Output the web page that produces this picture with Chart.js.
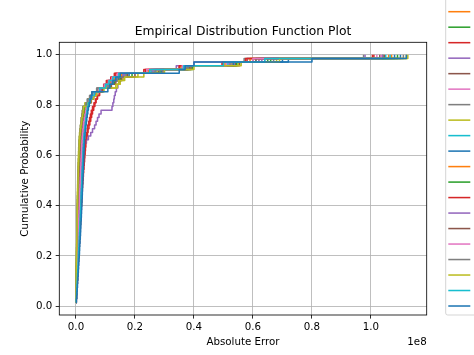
<!DOCTYPE html>
<html><head><meta charset="utf-8">
<script src="https://cdn.jsdelivr.net/npm/chart.js@4/dist/chart.umd.min.js"></script>
<style>html,body{margin:0;padding:0;background:#fff;overflow:hidden}canvas{display:block}</style>
</head><body>
<canvas id="c" width="474" height="355"></canvas>
<script>
// Sorted absolute errors for each series, in units of 1e6
const err00 = [0.03,0.08,0.13,0.18,0.23,0.28,0.33,0.38,0.43,0.48,0.53,0.58,0.63,0.68,0.73,0.78,0.83,0.88,0.93,0.98,1.03,1.08,1.13,1.18,1.23,1.28,1.33,1.38,1.43,1.48,1.53,1.58,1.63,1.68,1.73,1.78,1.84,1.9,1.96,2.02,2.08,2.14,2.2,2.28,2.36,2.45,2.55,2.7,2.85,3.0,3.15,3.3,3.5,3.7,4.2,4.8,5.5,6.5,8.5,10.5,12,13.5,16,26,37,52,70,110];
const err01 = [0.02,0.04,0.07,0.1,0.13,0.16,0.19,0.22,0.25,0.28,0.31,0.34,0.37,0.4,0.43,0.46,0.49,0.52,0.56,0.6,0.64,0.68,0.72,0.76,0.8,0.84,0.88,0.92,0.96,1.0,1.04,1.08,1.12,1.17,1.22,1.27,1.32,1.37,1.42,1.48,1.54,1.6,1.66,1.72,1.78,1.86,1.95,2.1,2.25,2.45,2.65,2.9,3.15,3.5,4.0,4.6,5.3,6.2,8,10.5,11.8,13,15.5,25,38,53,62,106];
const err02 = [0.01,0.03,0.04,0.06,0.07,0.09,0.1,0.12,0.13,0.15,0.16,0.18,0.19,0.21,0.23,0.25,0.27,0.29,0.31,0.33,0.35,0.37,0.39,0.41,0.43,0.45,0.48,0.51,0.54,0.57,0.6,0.63,0.66,0.69,0.72,0.76,0.8,0.84,0.88,0.92,0.96,1.0,1.05,1.1,1.15,1.25,1.35,1.5,1.65,1.8,1.95,2.1,2.3,2.5,3.4,4.0,4.8,5.6,7.5,11,12.5,14,17,27,36,51,66,104];
const err03 = [0.03,0.1,0.18,0.25,0.32,0.4,0.47,0.54,0.6,0.67,0.74,0.8,0.87,0.94,1.0,1.07,1.14,1.2,1.27,1.34,1.4,1.47,1.54,1.6,1.67,1.74,1.8,1.87,1.94,2.0,2.07,2.14,2.2,2.3,2.4,2.5,2.6,2.7,2.8,2.9,3.0,3.1,3.2,3.35,3.5,3.7,3.9,4.1,4.4,4.7,5.0,5.3,5.6,6.0,6.4,6.8,7.3,7.9,8.6,9.4,10.3,11.8,13,23.5,35,49.5,58,101];
const err04 = [0.02,0.06,0.1,0.14,0.18,0.22,0.26,0.3,0.34,0.38,0.42,0.46,0.5,0.54,0.58,0.62,0.66,0.7,0.74,0.78,0.82,0.86,0.9,0.95,1.0,1.05,1.1,1.15,1.2,1.25,1.3,1.36,1.42,1.48,1.54,1.6,1.7,1.8,1.9,2.0,2.2,2.5,2.8,3.1,3.5,4.2,5.0,5.6,6.3,6.8,7.3,7.8,8.5,12.2,12.5,12.8,13.0,13.3,13.7,14.2,14.8,15.4,16.5,27,34,40,62,104];
const err05 = [0.02,0.06,0.09,0.13,0.16,0.2,0.23,0.27,0.3,0.34,0.37,0.41,0.44,0.48,0.51,0.55,0.58,0.62,0.66,0.7,0.74,0.78,0.82,0.86,0.9,0.94,0.98,1.02,1.06,1.1,1.15,1.2,1.25,1.3,1.35,1.4,1.46,1.52,1.58,1.64,1.7,1.77,1.84,1.91,1.98,2.06,2.15,2.3,2.45,2.65,2.85,3.1,3.4,3.7,4.3,5.0,5.8,6.8,8.8,11.5,13,14.5,17.5,28,38.5,54,60,103];
const err06 = [0.02,0.05,0.08,0.11,0.14,0.17,0.2,0.23,0.26,0.29,0.32,0.35,0.38,0.41,0.44,0.47,0.5,0.54,0.58,0.62,0.66,0.7,0.74,0.78,0.82,0.86,0.9,0.94,0.98,1.02,1.06,1.1,1.15,1.2,1.25,1.3,1.35,1.4,1.46,1.52,1.58,1.64,1.7,1.76,1.82,1.9,2.0,2.15,2.3,2.5,2.7,2.95,3.2,3.4,3.9,4.5,5.2,6.0,7.8,9.8,11,12.5,14.5,24,36.5,50,64,102];
const err07 = [0.01,0.02,0.04,0.05,0.06,0.08,0.09,0.1,0.12,0.13,0.15,0.16,0.18,0.2,0.22,0.24,0.26,0.28,0.3,0.32,0.34,0.36,0.38,0.4,0.42,0.44,0.47,0.5,0.53,0.56,0.59,0.62,0.65,0.68,0.71,0.74,0.78,0.82,0.86,0.9,0.94,0.98,1.03,1.08,1.14,1.2,1.3,1.42,1.55,1.7,1.85,2.0,2.2,2.3,3.3,3.8,4.6,5.4,7,10.8,12,13.5,16,26.5,37.5,52.5,57,97.5];
const err08 = [0.01,0.02,0.03,0.04,0.05,0.06,0.07,0.08,0.09,0.1,0.11,0.12,0.14,0.15,0.17,0.18,0.2,0.22,0.24,0.26,0.28,0.3,0.32,0.34,0.36,0.38,0.4,0.42,0.44,0.46,0.48,0.5,0.53,0.56,0.59,0.62,0.65,0.68,0.72,0.76,0.8,0.85,0.9,0.95,1.0,1.1,1.2,1.35,1.5,1.65,1.8,2.0,2.2,2.4,3.0,4.0,5.0,6.5,8,14,15,16,23,27.5,39,55,68,112];
const err09 = [0.03,0.08,0.12,0.17,0.21,0.26,0.3,0.35,0.39,0.44,0.48,0.53,0.57,0.62,0.66,0.71,0.75,0.8,0.84,0.89,0.93,0.98,1.02,1.07,1.11,1.16,1.2,1.25,1.3,1.35,1.4,1.45,1.5,1.55,1.6,1.66,1.72,1.78,1.84,1.9,1.96,2.02,2.1,2.18,2.26,2.36,2.46,2.6,2.75,2.9,3.05,3.25,3.45,3.6,4.1,4.7,5.4,6.3,8.2,10.2,11.5,12.8,15,25.5,36,51.5,61,105];
const err10 = [0.02,0.06,0.1,0.14,0.18,0.22,0.26,0.3,0.34,0.38,0.42,0.46,0.5,0.54,0.58,0.62,0.66,0.7,0.74,0.78,0.82,0.86,0.9,0.94,0.98,1.02,1.06,1.1,1.14,1.18,1.22,1.27,1.32,1.37,1.42,1.47,1.52,1.58,1.64,1.7,1.76,1.82,1.88,1.95,2.02,2.1,2.2,2.35,2.5,2.7,2.9,3.15,3.4,3.6,4.2,4.9,5.7,6.8,9,11.3,12.8,14.5,18,29,38,53.5,72,108];
const err11 = [0.01,0.03,0.05,0.07,0.09,0.11,0.13,0.15,0.17,0.19,0.21,0.23,0.25,0.27,0.29,0.31,0.33,0.35,0.38,0.41,0.44,0.47,0.5,0.53,0.56,0.59,0.62,0.65,0.68,0.71,0.74,0.77,0.8,0.84,0.88,0.92,0.96,1.0,1.05,1.1,1.15,1.2,1.26,1.32,1.38,1.45,1.55,1.7,1.85,2.05,2.25,2.5,2.8,3.1,3.7,4.3,5.0,5.8,7.6,10,11.5,13,15,24.5,35.5,50.5,59,107];
const err12 = [0.01,0.03,0.05,0.06,0.08,0.1,0.12,0.14,0.16,0.18,0.2,0.22,0.24,0.26,0.28,0.3,0.32,0.34,0.36,0.38,0.4,0.43,0.46,0.49,0.52,0.55,0.58,0.61,0.64,0.67,0.7,0.73,0.76,0.8,0.84,0.88,0.92,0.96,1.0,1.05,1.1,1.15,1.2,1.26,1.32,1.4,1.5,1.62,1.75,1.9,2.1,2.35,2.6,2.8,3.6,4.4,5.2,6,8,11.5,13,15,19,28.5,39.5,54.5,65,109];
const err13 = [0.04,0.11,0.18,0.24,0.31,0.37,0.44,0.5,0.57,0.63,0.7,0.76,0.83,0.89,0.96,1.02,1.09,1.15,1.22,1.28,1.35,1.41,1.48,1.54,1.61,1.67,1.74,1.8,1.87,1.93,2.0,2.07,2.14,2.21,2.28,2.36,2.44,2.52,2.6,2.7,2.8,2.9,3.0,3.12,3.25,3.4,3.6,3.8,4.0,4.3,4.6,4.9,5.2,5.6,6.1,6.6,7.2,8,8.8,9.8,10.8,12,13.5,23,35,49.8,57.5,100.5];
const err14 = [0.02,0.05,0.09,0.12,0.15,0.19,0.22,0.25,0.29,0.32,0.35,0.39,0.42,0.45,0.49,0.52,0.56,0.6,0.64,0.68,0.72,0.76,0.8,0.84,0.88,0.92,0.96,1.0,1.04,1.08,1.13,1.18,1.23,1.28,1.33,1.38,1.44,1.5,1.56,1.62,1.68,1.74,1.8,1.87,1.94,2.02,2.12,2.25,2.4,2.6,2.8,3.05,3.35,3.7,4.2,4.8,5.5,6.4,8.4,10.8,12.2,13.8,16,26,37,52,63,98];
const err15 = [0.02,0.05,0.08,0.1,0.13,0.16,0.19,0.22,0.25,0.27,0.3,0.33,0.36,0.39,0.42,0.45,0.48,0.51,0.54,0.58,0.62,0.66,0.7,0.74,0.78,0.82,0.86,0.9,0.94,0.98,1.02,1.06,1.1,1.15,1.2,1.25,1.3,1.36,1.42,1.48,1.54,1.6,1.67,1.74,1.81,1.9,2.0,2.15,2.3,2.5,2.7,2.95,3.2,3.8,4.5,5.2,6,7,9.2,12,13.5,15.5,20,29.5,39,55.5,61,104.5];
const err16 = [0.03,0.07,0.11,0.15,0.19,0.23,0.27,0.31,0.35,0.39,0.43,0.47,0.51,0.55,0.59,0.63,0.67,0.71,0.75,0.79,0.83,0.87,0.91,0.95,0.99,1.03,1.07,1.11,1.15,1.2,1.25,1.3,1.35,1.4,1.45,1.5,1.55,1.6,1.66,1.72,1.78,1.84,1.9,1.97,2.04,2.12,2.22,2.35,2.5,2.65,2.85,3.05,3.3,3.5,3.9,4.4,5,5.8,7.5,9.6,11,12.2,14,24,36,51,60,103.5];
const err17 = [0.01,0.02,0.03,0.05,0.06,0.07,0.09,0.1,0.11,0.13,0.14,0.16,0.17,0.19,0.21,0.23,0.25,0.27,0.29,0.31,0.33,0.35,0.37,0.39,0.41,0.43,0.45,0.48,0.51,0.54,0.57,0.6,0.63,0.66,0.7,0.74,0.78,0.82,0.86,0.9,0.95,1.0,1.05,1.1,1.16,1.22,1.3,1.4,1.52,1.65,1.8,2.0,2.2,2.4,3.4,4.0,4.7,5.5,7.2,11,12.5,14,17,27,38,53,67,111];
const err18 = [0.01,0.02,0.03,0.04,0.06,0.07,0.08,0.1,0.11,0.12,0.14,0.15,0.17,0.18,0.2,0.22,0.24,0.26,0.28,0.3,0.32,0.34,0.36,0.38,0.4,0.42,0.45,0.48,0.51,0.54,0.57,0.6,0.63,0.67,0.71,0.75,0.79,0.83,0.87,0.92,0.97,1.02,1.08,1.14,1.2,1.28,1.38,1.5,1.65,1.8,2.0,2.2,2.4,2.6,4.0,5.0,6.0,7.0,9.5,13.5,14.5,16.5,21,30,40,56,69,112.5];
const err19 = [0.04,0.1,0.16,0.22,0.28,0.34,0.4,0.46,0.52,0.58,0.64,0.7,0.76,0.82,0.88,0.94,1.0,1.06,1.12,1.18,1.24,1.3,1.36,1.42,1.48,1.54,1.6,1.66,1.72,1.78,1.84,1.9,1.96,2.02,2.08,2.14,2.2,2.26,2.32,2.38,2.44,2.5,2.57,2.64,2.72,2.8,2.9,3.0,3.12,3.25,3.4,3.55,3.7,3.85,4.1,4.6,5.3,6.2,8,10,11.2,12.5,14.5,25,36.5,50,64,106.5];
const err20 = [0.05,0.15,0.25,0.33,0.4,0.5,0.58,0.65,0.72,0.8,0.88,0.95,1.02,1.1,1.17,1.23,1.3,1.38,1.45,1.52,1.58,1.64,1.7,1.76,1.82,1.88,1.94,2.0,2.05,2.1,2.15,2.2,2.25,2.3,2.35,2.4,2.45,2.5,2.55,2.6,2.65,2.7,2.75,2.8,2.9,3.0,3.1,3.2,3.35,3.5,3.65,3.8,4.0,4.2,4.5,4.8,5.1,5.4,10.8,11.5,12.5,13.5,15,35,37,40,80,112];

const seriesValues = [err00,err01,err02,err03,err04,err05,err06,err07,err08,err09,err10,err11,err12,err13,err14,err15,err16,err17,err18,err19,err20];
const seriesLabels = seriesValues.map((_, i) => 'Series ' + (i + 1));
const palette = ['#1f77b4','#ff7f0e','#2ca02c','#d62728','#9467bd','#8c564b','#e377c2','#7f7f7f','#bcbd22','#17becf'];
const xTickValues = [0, 0.2e8, 0.4e8, 0.6e8, 0.8e8, 1.0e8];
const yTickValues = [0, 0.2, 0.4, 0.6, 0.8, 1.0];
const UNIT = 1e6;

Chart.defaults.font.family = '"DejaVu Sans"';
Chart.defaults.color = '#000';

const datasets = seriesValues.map((arr, k) => ({
  label: seriesLabels[k],
  data: arr.map((v, i) => ({x: v * UNIT, y: (i + 1) / arr.length})),
  borderColor: palette[k % 10],
  backgroundColor: palette[k % 10],
  borderWidth: 1.54,
  pointRadius: 0,
  pointHoverRadius: 0,
  fill: false,
  stepped: true,
  borderJoinStyle: 'round',
  order: seriesValues.length - k
}));

const decor = {
  id: 'decor',
  afterDatasetsDraw(chart) {
    const {ctx, chartArea: a} = chart;
    ctx.save();
    ctx.strokeStyle = '#000';
    ctx.lineWidth = 0.82;
    ctx.strokeRect(a.left, a.top, a.right - a.left, a.bottom - a.top);
    ctx.restore();
  },
  afterDraw(chart) {
    const {ctx, chartArea: a} = chart;
    ctx.save();
    ctx.fillStyle = '#000';
    ctx.font = '10.28px "DejaVu Sans"';
    ctx.textAlign = 'right';
    ctx.textBaseline = 'alphabetic';
    ctx.fillText('1e8', a.right, 345);
    // legend frame (cut by the figure edge)
    const bx = 445.7, by = -40, bw = 120, bh = 315 - by, r = 2;
    ctx.beginPath();
    ctx.moveTo(bx + r, by);
    ctx.lineTo(bx + bw, by);
    ctx.lineTo(bx + bw, by + bh);
    ctx.lineTo(bx + r, by + bh);
    ctx.arcTo(bx, by + bh, bx, by + bh - r, r);
    ctx.lineTo(bx, by + r);
    ctx.arcTo(bx, by, bx + r, by, r);
    ctx.closePath();
    ctx.fillStyle = 'rgba(255,255,255,0.8)';
    ctx.fill();
    ctx.strokeStyle = '#cccccc';
    ctx.lineWidth = 0.82;
    ctx.stroke();
    chart.data.datasets.forEach((ds, k) => {
      const y = 11.7 + (k - 1) * 15.49;
      ctx.strokeStyle = ds.borderColor;
      ctx.lineWidth = 1.54;
      ctx.beginPath();
      ctx.moveTo(448.3, y);
      ctx.lineTo(470.3, y);
      ctx.stroke();
    });
    ctx.restore();
  }
};

new Chart(document.getElementById('c'), {
  type: 'line',
  data: {datasets},
  options: {
    responsive: false,
    animation: false,
    devicePixelRatio: 1,
    events: [],
    layout: {padding: {left: 0, right: 47.3, top: 0, bottom: 0}},
    plugins: {
      legend: {display: false},
      tooltip: {enabled: false},
      title: {
        display: true,
        text: 'Empirical Distribution Function Plot',
        color: '#000',
        fullSize: false,
        font: {size: 12.33, weight: 'normal', lineHeight: 1.2},
        padding: {top: 24.6, bottom: 2.9}
      }
    },
    scales: {
      x: {
        type: 'linear',
        min: -5.66e6,
        max: 118.9e6,
        bounds: 'data',
        afterBuildTicks: s => { s.ticks = xTickValues.map(v => ({value: v})); },
        afterFit: s => { s.height = 40; },
        ticks: {
          callback: v => (v / 1e8).toFixed(1),
          color: '#000', font: {size: 10.28}, padding: 3,
          maxRotation: 0, autoSkip: false
        },
        grid: {color: '#b0b0b0', lineWidth: 0.82, tickColor: '#000', tickLength: 3.6, tickWidth: 0.82, drawTicks: true},
        border: {display: false},
        title: {display: true, text: 'Absolute Error', color: '#000', font: {size: 10.28, lineHeight: 1.2}, padding: {top: 0, bottom: 6.9}}
      },
      y: {
        type: 'linear',
        min: -0.0346,
        max: 1.0493,
        bounds: 'data',
        afterBuildTicks: s => { s.ticks = yTickValues.map(v => ({value: v})); },
        afterFit: s => { s.width = 59.3; },
        ticks: {
          callback: v => v.toFixed(1),
          color: '#000', font: {size: 10.28}, padding: 3.4, autoSkip: false
        },
        grid: {color: '#b0b0b0', lineWidth: 0.82, tickColor: '#000', tickLength: 3.6, tickWidth: 0.82, drawTicks: true},
        border: {display: false},
        title: {display: true, text: 'Cumulative Probability', color: '#000', font: {size: 10.28, lineHeight: 1.2}, padding: {top: 19.6, bottom: 0}}
      }
    }
  },
  plugins: [decor]
});
</script>
</body></html>
